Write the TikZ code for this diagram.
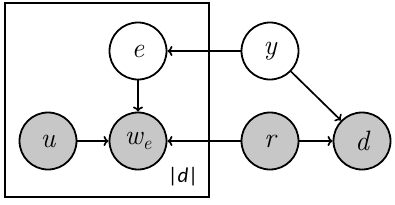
\documentclass[tikz,border=0pt]{standalone}
\usepackage{fontspec}
\newfontfamily\calib{Carlito}
\usetikzlibrary{arrows.meta}
\begin{document}
\begin{tikzpicture}[x=1pt,y=-1pt,
  var/.style={circle,draw=black,line width=1.8pt,minimum size=57pt,inner sep=0pt,font=\fontsize{28}{32}\selectfont\itshape},
  obs/.style={var,fill=black!22},
  lat/.style={var,fill=white},
  edge/.style={line width=1.7pt,-{To[length=5pt,width=10pt,line width=1.6pt]}},
  plate/.style={draw=black,line width=1.8pt}]
\useasboundingbox (0,0) rectangle (395,204);
\draw[plate] (5,3) rectangle (209,197);
\node[font=\fontsize{21}{24}\selectfont\calib] (lbl) at (183,177) {|\textit{d}|};
\node[lat] (e) at (138,51) {e};
\node[obs] (u) at (48,141) {u};
\node[obs] (w) at (138,141) {w\raisebox{-5pt}{\fontsize{19}{21}\selectfont e}};
\node[lat] (y) at (270,51) {y};
\node[obs] (r) at (270,141) {r};
\node[obs] (d) at (362,141) {d};
\draw[edge] (y) -- (e);
\draw[edge] (e) -- (w);
\draw[edge] (u) -- (w);
\draw[edge] (r) -- (w);
\draw[edge] (r) -- (d);
\draw[edge] (y) -- (d);
\end{tikzpicture}
\end{document}
